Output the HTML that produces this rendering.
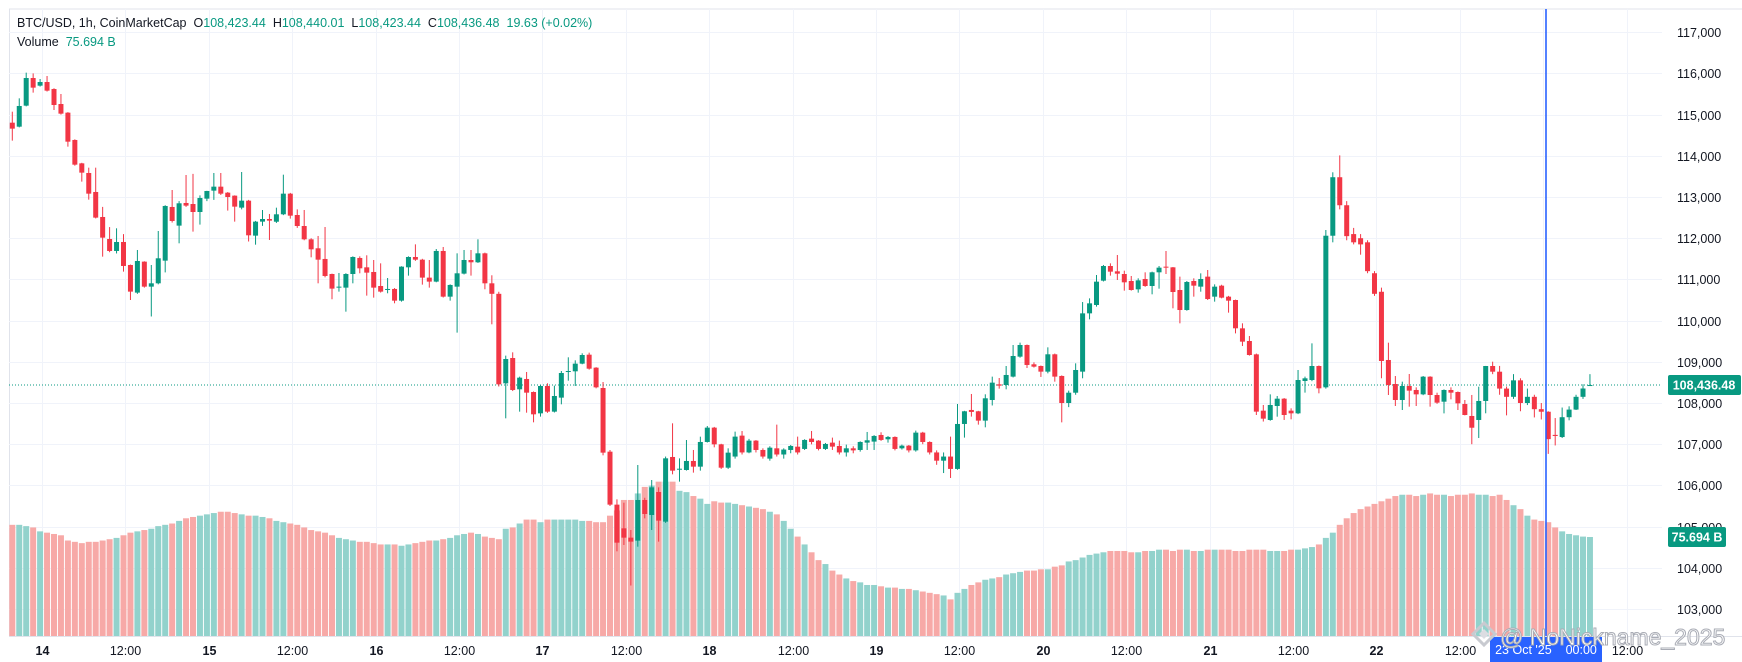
<!DOCTYPE html>
<html><head><meta charset="utf-8">
<style>
html,body{margin:0;padding:0;background:#fff;width:1742px;height:662px;overflow:hidden;}
svg{display:block;font-family:"Liberation Sans",sans-serif;}
</style></head>
<body>
<svg id="chart" width="1742" height="662" viewBox="0 0 1742 662" xmlns="http://www.w3.org/2000/svg">
  <g id="grid"></g>
  <g id="volumes"></g>
  <g id="candles"></g>
  <g id="axes"></g>
  <g id="overlay"></g>
</svg>
<script>
const opens=[114804,114707,115217,115888,115702,115791,115621,115257,115047,114384,113817,113583,113122,112515,111981,111690,111908,111350,110679,111431,110824,110905,111455,112758,112305,112855,112830,112636,112960,113154,113251,113105,113033,112742,112911,112062,112402,112466,112400,112580,113081,112563,112296,111973,111755,111496,111131,110800,110800,111131,111520,111293,111180,110840,110743,110768,110484,111293,111544,111479,111043,110946,111690,110581,110824,111140,111471,111415,111633,110905,110650,108477,109092,108332,108583,108267,107749,108413,107790,108130,108752,108769,108955,109173,108858,108364,106819,105533,104958,104732,104659,105646,105282,105840,105120,106690,106390,106374,106593,106455,107054,107402,106997,106430,106700,107208,106800,107087,106860,106650,106900,106750,106860,106940,106885,107135,107087,106885,107038,106957,106800,106900,106860,107038,107063,107224,107119,107176,106900,106965,106850,107281,107054,106800,106600,106700,106400,107491,107831,107799,107572,108073,108453,108437,108640,109125,109408,108939,108898,108761,109182,108656,108000,108250,108761,110176,110379,110969,111325,111196,111131,110961,110759,111010,110840,111172,111309,111293,110743,110257,110961,110824,111067,110581,110848,110581,110500,109812,109505,109181,107814,107588,107927,108105,107814,107749,108534,108558,108898,108380,112060,113480,112800,112100,112000,111900,111150,110700,109044,108461,108073,108413,108316,108210,108639,108194,108032,108316,108267,107976,107685,107588,108049,108898,108760,108350,108150,108550,108000,108150,107850,107788,107226,107174,107655,107840,108150,108423];
const highs=[115071,115395,116018,116000,115864,115937,115640,115500,115060,114400,113830,113712,113712,112760,112270,112240,112100,111360,111714,111440,111350,112175,112800,113170,112900,113534,113560,113040,113150,113583,113583,113120,113040,113607,112930,112420,112685,112588,112741,113542,113100,112700,112685,112000,112054,112272,111140,111156,111150,111560,111560,111585,111471,111390,111034,110790,111320,111560,111851,111500,111471,111738,111787,110880,111633,111714,111714,111973,111650,111100,110700,109150,109230,108640,108753,108280,108430,108478,108421,108777,109109,109036,109206,109222,108870,108510,106860,105662,105581,104918,106495,105700,106131,105953,106700,107507,106657,107102,106860,107183,107442,107420,107010,106900,107305,107320,107128,107100,106900,106950,107475,106900,106980,107184,107120,107321,107100,107030,107160,107087,106990,106950,107070,107297,107220,107289,107200,107190,106990,106980,107330,107300,107070,106850,106800,107184,107976,107810,108219,107810,108211,108640,108607,108898,109408,109465,109420,108987,108910,109351,109200,108670,108300,108963,110451,110540,111107,111350,111390,111592,111212,111083,111026,111172,111188,111325,111689,111300,111067,110961,111026,111147,111228,110880,110870,110600,110510,109934,109626,109200,107952,108210,108170,108120,107871,108801,108640,109448,108910,112200,113600,114010,112900,112250,112100,111950,111200,110800,109464,108655,108518,108704,108380,108655,108650,108250,108332,108380,108280,108073,108195,108396,108900,109003,108900,108400,108700,108600,108350,108200,108000,107800,107635,107890,107920,108200,108454,108700];
const lows=[114368,114690,115200,115533,115680,115560,115112,115000,114222,113760,113373,112936,112480,111552,111660,111630,111188,110500,110650,110800,110100,110880,111170,112380,111876,112760,112159,112330,112900,112930,113050,112670,112402,112700,111920,111843,112300,111957,112370,112560,112475,112250,111950,111536,110905,111050,110517,110703,110217,110905,111148,110606,110557,110680,110663,110420,110460,111091,111450,110873,110800,110930,110560,110484,109708,111120,111091,111400,110760,109910,108400,107628,108290,107790,107765,107531,107668,107760,107770,107968,108542,108413,108940,108810,108356,106730,105500,104400,104554,103570,104513,105200,104918,104635,105090,106269,106091,106360,106310,106358,107040,106924,106400,106400,106650,106750,106780,106800,106650,106600,106700,106650,106780,106750,106860,106997,106850,106860,106860,106750,106700,106780,106820,106860,106860,107080,107038,106850,106870,106800,106820,107000,106750,106500,106300,106180,106380,107160,107670,107475,107410,107940,108348,108332,108620,109100,108850,108860,108632,108720,108518,107530,107900,108200,108600,110031,110338,110950,111091,110986,110727,110727,110678,110820,110638,110775,111131,110298,109934,110240,110581,110702,110500,110460,110540,110193,109691,109383,109150,107709,107550,107570,107668,107588,107604,107730,108251,108530,108235,108350,111900,112700,111950,111850,111600,111150,110600,108600,108194,107927,107830,107911,107927,108190,107911,107980,107749,108089,107830,107700,107000,107150,107750,108700,108200,107700,108100,107800,107950,107650,107600,106765,106970,107150,107580,107830,108100,108423];
const closes=[114659,115209,115888,115654,115791,115581,115233,115023,114343,113785,113591,113081,112499,112013,111690,111908,111326,110703,111447,110824,110905,111512,112782,112418,112847,112790,112636,112976,113146,113251,113081,113000,112766,112911,112070,112402,112466,112426,112580,113081,112547,112296,111973,111730,111479,111083,110776,110824,111131,111544,111269,111164,110800,110703,110768,110484,111310,111544,111479,111043,110946,111690,110581,110865,111148,111471,111415,111633,110905,110650,108453,109068,108316,108615,108251,107725,108413,107790,108170,108728,108777,108955,109165,108833,108380,106795,105533,104610,104732,104635,105646,105306,105953,105145,106657,106358,106405,106593,106455,107054,107402,106997,106430,106795,107184,106800,107087,106860,106700,106916,106750,106870,106957,106800,107103,107054,106885,107006,106941,106800,106900,106850,107054,107095,107200,107103,107176,106885,106965,106850,107281,107054,106800,106600,106700,106400,107491,107799,107783,107572,108114,108494,108421,108680,109141,109408,108923,108882,108761,109182,108640,108000,108250,108801,110176,110419,110945,111325,111188,111139,110929,110743,110977,110840,111172,111285,111293,110694,110257,110937,110848,111010,110524,110824,110557,110484,109813,109489,109165,107790,107620,107952,108105,107709,107749,108558,108599,108898,108356,112060,113480,112800,112050,111900,111850,111200,110650,109020,108437,108073,108413,108300,108210,108639,108194,108008,108316,108251,107992,107709,107400,108049,108898,108760,108350,108150,108550,108000,108150,107850,107788,107123,107200,107655,107840,108150,108352,108436];
const volumes=[85,85,84,83,80,79,78,77,73,72,71,72,72,73,74,75,77,79,80,81,82,84,85,86,88,90,91,92,93,94,95,95,94,93,92,92,91,90,88,87,86,85,83,81,80,79,77,75,74,73,72,72,71,70,70,70,69,70,71,72,73,73,74,75,77,78,79,78,76,75,74,82,83,86,89,89,87,89,89,89,89,89,88,88,87,87,92,96,104,104,109,114,115,118,118,118,111,110,107,105,101,103,102,102,101,100,99,98,97,95,93,88,82,76,70,64,58,55,50,47,44,42,41,39,39,38,37,37,36,36,35,34,33,32,31,28,33,36,39,41,43,44,45,47,48,49,50,50,51,51,53,54,57,58,60,62,63,64,65,65,65,64,64,65,65,66,66,65,66,66,65,65,66,66,66,66,65,65,66,66,66,65,65,65,66,66,67,68,70,75,79,85,90,94,97,99,101,103,105,107,108,108,107,108,109,108,108,107,108,108,109,108,108,107,108,104,100,97,92,89,88,87,83,80,78,77,76,75.694];
const priceTicks=[117000,116000,115000,114000,113000,112000,111000,110000,109000,108000,107000,106000,105000,104000,103000];
const timeLabels=["14","12:00","15","12:00","16","12:00","17","12:00","18","12:00","19","12:00","20","12:00","21","12:00","22","12:00","23","12:00"];
const dayFlags=[1,0,1,0,1,0,1,0,1,0,1,0,1,0,1,0,1,0,1,0];
const lastPrice=108436.48;

const NS="http://www.w3.org/2000/svg";
const PLOT_L=9, PLOT_R=1662, PLOT_T=9, PLOT_B=636;
const GREEN="#089981", RED="#f23645", VG="#92d2cc", VR="#f7a9a7";
function yP(p){return 32.2+(117000-p)*0.0412;}
function xI(i){return 12.3+i*6.95;}
function xT(k){return 42+k*83.4;}
function yV(v){return PLOT_B-v*1.308;}
function mk(tag,attrs,parent){const e=document.createElementNS(NS,tag);for(const k in attrs)e.setAttribute(k,attrs[k]);parent.appendChild(e);return e;}

const grid=document.getElementById('grid');
const vol=document.getElementById('volumes');
const cg=document.getElementById('candles');
const ax=document.getElementById('axes');
const ov=document.getElementById('overlay');

let f=mk('line',{x1:PLOT_L,y1:PLOT_T,x2:1742,y2:PLOT_T,stroke:'#e0e3eb','stroke-width':1},grid);


f=mk('line',{x1:PLOT_L+0.5,y1:PLOT_T,x2:PLOT_L+0.5,y2:PLOT_B,stroke:'#e0e3eb','stroke-width':1},grid);


f=mk('line',{x1:PLOT_L,y1:PLOT_B+0.5,x2:1742,y2:PLOT_B+0.5,stroke:'#e0e3eb','stroke-width':1},grid);



priceTicks.forEach(p=>{
  const y=Math.round(yP(p))+0.5;
  const l=mk('line',{x1:PLOT_L,y1:y,x2:PLOT_R,y2:y,stroke:'#f0f3fa','stroke-width':1},grid);
  
  
  const t=mk('text',{x:1677,y:y+4.5,'font-size':12.5,fill:'#131722'},ax);
  t.textContent=p.toLocaleString('en-US');
  
  
});
timeLabels.forEach((lab,k)=>{
  const x=Math.round(xT(k))+0.5;
  const l=mk('line',{x1:x,y1:PLOT_T,x2:x,y2:PLOT_B,stroke:'#f0f3fa','stroke-width':1},grid);
  
  
  if(k===18) return;
  const t=mk('text',{x:x,y:655,'font-size':12.5,fill:'#131722','text-anchor':'middle','font-weight':dayFlags[k]?'bold':'normal'},ax);
  t.textContent=lab;
  
  
});

volumes.forEach((v,i)=>{
  const up=closes[i]>=opens[i];
  const y=yV(v);
  const r=mk('rect',{x:xI(i)-3,y:y,width:6,height:PLOT_B-y,fill:up?VG:VR},vol);
  
  
});

let pl=mk('line',{x1:PLOT_L,y1:yP(lastPrice),x2:PLOT_R,y2:yP(lastPrice),stroke:GREEN,'stroke-width':1,'stroke-dasharray':'1 2'},cg);



opens.forEach((o,i)=>{
  const c=closes[i],h=highs[i],lo=lows[i];
  const up=c>=o, col=up?GREEN:RED, x=xI(i);
  const g=mk('g',{},cg);
  
  
  mk('line',{x1:x,y1:yP(h),x2:x,y2:yP(lo),stroke:col,'stroke-width':1},g);
  const yt=yP(Math.max(o,c)), yb=yP(Math.min(o,c));
  mk('rect',{x:x-2.5,y:yt,width:5,height:Math.max(1,yb-yt),fill:col},g);
});

let ch=mk('line',{x1:1546,y1:PLOT_T,x2:1546,y2:PLOT_B,stroke:'#2962ff','stroke-width':1.6},ov);



let cb=mk('g',{},ov);


mk('rect',{x:1490,y:637,width:112,height:25,fill:'#2962ff'},cb);
let ct=mk('text',{x:1546,y:654,'font-size':12.5,fill:'#ffffff','text-anchor':'middle'},cb);
ct.textContent="23 Oct '25\u00a0\u00a0\u00a0\u00a000:00";

let wm=mk('g',{},ov);


mk('path',{d:'M1484 623 L1495 634 L1484 645 L1473 634 Z',fill:'none',stroke:'#c8cad0','stroke-width':3},wm);
mk('path',{d:'M1484 629 L1489 634 L1484 639 L1479 634 Z',fill:'#dcdde2'},wm);
let wt=mk('text',{x:1500,y:645,'font-size':23,fill:'#ffffff',stroke:'#a9acb5','stroke-width':1},wm);
wt.textContent='@ NoNickname_2025';

let pt=mk('g',{},ov);


mk('rect',{x:1668,y:yP(lastPrice)-10,width:73,height:20,rx:2,fill:GREEN},pt);
let ptt=mk('text',{x:1704,y:yP(lastPrice)+4.5,'font-size':12.5,'font-weight':'bold',fill:'#fff','text-anchor':'middle'},pt);
ptt.textContent=lastPrice.toLocaleString('en-US',{minimumFractionDigits:2});

let vt=mk('g',{},ov);


const vy=yV(volumes[volumes.length-1]);
mk('rect',{x:1668,y:vy-10,width:58,height:20,rx:2,fill:GREEN},vt);
let vtt=mk('text',{x:1697,y:vy+4.5,'font-size':12.5,'font-weight':'bold',fill:'#fff','text-anchor':'middle'},vt);
vtt.textContent=volumes[volumes.length-1].toFixed(3)+' B';

let lg=mk('g',{},ov);


let t1=mk('text',{x:17,y:27,'font-size':12.5,fill:'#131722'},lg);
t1.innerHTML='BTC/USD, 1h, CoinMarketCap<tspan dx="7">O</tspan><tspan fill="#089981">108,423.44</tspan><tspan dx="7">H</tspan><tspan fill="#089981">108,440.01</tspan><tspan dx="7">L</tspan><tspan fill="#089981">108,423.44</tspan><tspan dx="7">C</tspan><tspan fill="#089981">108,436.48</tspan><tspan dx="7" fill="#089981">19.63 (+0.02%)</tspan>';
let t2=mk('text',{x:17,y:46,'font-size':12.5,fill:'#131722'},lg);
t2.innerHTML='Volume<tspan dx="7" fill="#089981">75.694 B</tspan>';


</script>
</body></html>
